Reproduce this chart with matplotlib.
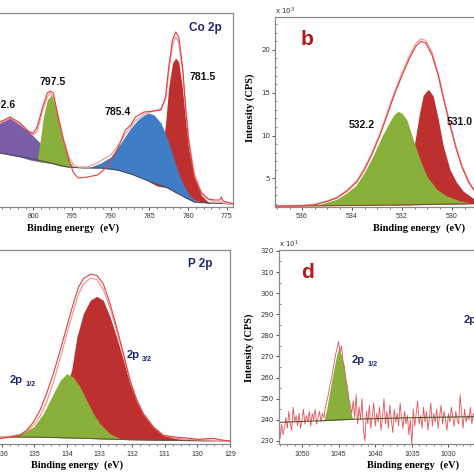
import matplotlib
matplotlib.use("Agg")
import matplotlib.pyplot as plt
from matplotlib.ticker import MultipleLocator
from matplotlib.transforms import offset_copy

# ---------------- panel a : Co 2p ----------------
a_bg_x = [805.5, 804.3, 800.0, 797.8, 795.6, 793.5, 791.3, 789.1, 787.0, 784.8, 782.6, 780.5, 779.2, 777.4, 774.0]
a_bg_y = [56, 54, 48, 44, 40, 39, 39, 37, 32, 25, 19, 10, 5, 4, 3]

a_purple_x = [805.5, 804.3, 803.0, 801.7, 800.4, 799.1, 797.8, 796.9, 796.0]
a_purple_top = [78, 84, 89, 82, 74, 64, 50, 43, 40]
a_purple_bot = [56, 54, 52, 50, 47, 45, 44, 42, 40]

a_green_x = [799.5, 799.1, 798.7, 798.2, 797.7, 797.3, 796.9, 796.5, 796.1, 795.6, 795.2, 794.8]
a_green_top = [46, 67, 90, 107, 112, 107, 94, 77, 64, 52, 44, 40]
a_green_bot = [46, 45, 45, 44, 44, 43, 42, 41, 41, 40, 40, 40]

a_blue_x = [792.6, 791.3, 790.0, 788.7, 787.4, 786.5, 785.7, 785.1, 784.4, 783.5, 782.6, 781.8, 780.9, 780.0, 779.2, 778.3]
a_blue_top = [40, 44, 50, 64, 79, 87, 92, 94, 92, 84, 67, 47, 27, 14, 7, 4]
a_blue_bot = [39, 39, 38, 36, 33, 30, 28, 26, 24, 22, 19, 15, 12, 8, 5, 4]

a_red_x = [785.0, 784.0, 783.3, 782.9, 782.5, 782.0, 781.6, 781.2, 780.7, 780.3, 779.9, 779.2, 778.3, 777.4, 776.6, 775.5]
a_red_top = [26, 40, 60, 84, 120, 144, 149, 145, 117, 84, 57, 30, 12, 5, 3.5, 3]
a_red_bot = [25, 21, 20, 20, 18, 17, 16, 15, 13, 12, 10, 7, 5, 4, 3.5, 3]

a_line_x = [805.5, 804.3, 803.0, 801.7, 800.6, 800.0, 799.5, 798.8, 798.2, 797.8, 797.4, 796.8, 796.1,
            795.4, 794.8, 794.2, 793.0, 791.7, 790.9, 790.0, 789.0, 788.1, 787.4, 786.8, 785.7, 784.4,
            783.5, 782.9, 782.5, 782.0, 781.6, 781.2, 780.7, 780.3, 779.9, 779.2, 778.3, 777.4, 776.6,
            775.9, 775.7, 775.5, 774.0]
a_data_y = [80, 85, 90, 84, 75, 74, 80, 100, 114, 116, 114, 90, 67, 47, 34, 29, 30, 32, 37, 45, 60, 77,
            82, 90, 95, 96, 97, 110, 140, 167, 175, 170, 140, 97, 64, 30, 14, 8, 7, 7, 10, 6, 3]
a_fit_y = [79, 84, 89, 83, 76, 72, 76, 96, 110, 114, 110, 92, 68, 50, 42, 40, 40, 44, 48, 52, 62, 73,
           80, 86, 93, 96, 98, 108, 135, 162, 170, 165, 135, 100, 68, 34, 15, 8, 5, 5, 5, 4, 3]

# ---------------- panel b : O 1s ----------------
b_bg_x = [537.2, 535.0, 533.0, 531.0, 529.0]
b_bg_y = [1.75, 1.8, 1.85, 1.95, 2.05]

b_green_x = [536.5, 535.3, 534.6, 534.2, 533.84, 533.48, 533.16, 532.8, 532.44, 532.3, 532.15, 532.0,
             531.81, 531.55, 531.28, 531.01, 530.61, 530.21, 529.68, 529.15]
b_green_top = [1.8, 1.97, 2.56, 3.33, 4.18, 5.8, 7.6, 9.92, 11.86, 12.5, 12.82, 12.6, 11.86, 9.53,
               7.21, 5.27, 3.72, 2.94, 2.36, 2.09]
b_green_bot = [1.77, 1.8, 1.82, 1.83, 1.84, 1.85, 1.86, 1.87, 1.88, 1.89, 1.9, 1.9, 1.91, 1.92, 1.93,
               1.95, 1.97, 1.99, 2.01, 2.04]

b_red_x = [532.4, 532.0, 531.7, 531.5, 531.3, 531.15, 530.95, 530.75, 530.55, 530.35, 530.08, 529.81,
           529.55, 529.12]
b_red_top = [1.9, 3.0, 5.5, 9.0, 12.6, 14.7, 15.4, 14.6, 11.9, 8.8, 6.0, 4.5, 3.5, 2.6]
b_red_bot = [1.88, 1.9, 1.91, 1.92, 1.93, 1.94, 1.95, 1.96, 1.97, 1.98, 1.99, 2.0, 2.02, 2.04]

b_line_x = [537.1, 536.0, 535.5, 535.0, 534.6, 534.2, 533.8, 533.5, 533.2, 532.9, 532.6, 532.3, 532.0,
            531.7, 531.45, 531.25, 531.05, 530.8, 530.55, 530.35, 530.1, 529.85, 529.6, 529.35, 529.1]
b_fit_y = [1.75, 1.8, 1.9, 2.3, 2.7, 3.5, 4.6, 6.0, 7.8, 9.9, 12.3, 14.8, 17.0, 19.0, 20.4, 21.0,
           20.8, 19.4, 17.0, 14.4, 11.4, 8.6, 6.3, 4.6, 3.5]
b_data_y = [1.8, 1.85, 1.95, 2.35, 2.8, 3.6, 4.75, 6.2, 8.0, 10.1, 12.6, 15.1, 17.3, 19.3, 20.7, 21.3,
            21.1, 19.7, 17.3, 14.7, 11.7, 8.9, 6.5, 4.8, 3.6]

# ---------------- panel c : P 2p ----------------
c_bg_x = [138.4, 136.0, 135.0, 134.0, 133.0, 132.0, 131.0, 130.0, 129.0]
c_bg_y = [8.5, 7.5, 7.2, 6.5, 5.5, 4.5, 4.0, 3.6, 3.3]

c_green_x = [136.2, 135.75, 135.44, 135.03, 134.73, 134.42, 134.21, 134.01, 133.81, 133.60, 133.40,
             133.19, 132.99, 132.68, 132.37, 131.98]
c_green_top = [7.6, 8.0, 10.6, 17.3, 30.6, 50.6, 64, 70.6, 67.3, 57.3, 44, 30.6, 20.6, 10.6, 5.6, 4.5]
c_green_bot = [7.6, 7.4, 7.3, 7.2, 7.0, 6.8, 6.6, 6.5, 6.3, 6.1, 5.9, 5.7, 5.5, 5.2, 4.9, 4.5]

c_red_x = [136.2, 135.5, 135.0, 134.5, 134.2, 133.86, 133.70, 133.50, 133.29, 133.09, 132.89, 132.68,
           132.48, 132.27, 132.07, 131.86, 131.66, 131.35, 131.05, 130.64, 130.0, 129.5]
c_red_top = [7.6, 8.5, 12, 24, 40, 74, 107, 130.6, 144, 148, 144, 127.3, 107.3, 84, 60.6, 44, 30.6,
             17.3, 9, 5.6, 4.5, 3.8]
c_red_bot = [7.6, 7.3, 7.2, 6.8, 6.6, 6.3, 6.2, 6.0, 5.8, 5.6, 5.4, 5.2, 5.0, 4.8, 4.6, 4.4, 4.3, 4.1,
             4.0, 3.8, 3.6, 3.5]

c_line_x = [138.4, 136.05, 135.75, 135.44, 135.24, 135.03, 134.83, 134.63, 134.42, 134.21, 134.01,
            133.81, 133.65, 133.50, 133.29, 133.09, 132.89, 132.68, 132.48, 132.27, 132.07, 131.86,
            131.66, 131.35, 131.05, 130.64, 130.33, 130.0, 129.49, 129.3, 129.0]
c_fit_y = [8.5, 7.6, 8, 10, 13, 19, 28, 42, 62, 86, 110, 133, 150, 160, 166, 165, 155, 136, 114, 89,
           64, 44, 30.6, 17.3, 9, 6, 5, 4.5, 4, 3.8, 3.5]
c_data_y = [8.5, 5.6, 7.3, 9, 14, 22.3, 34, 50.6, 70.6, 94, 117.3, 140.6, 157, 165.6, 170, 169, 160.6,
            140.6, 117.3, 90.6, 64, 44, 30.6, 17.3, 9, 7, 6.3, 5, 6, 4.5, 3.3]

# ---------------- panel d (x10) ----------------
d_x = [1053.2, 1053.0, 1052.8, 1052.6, 1052.4, 1052.2, 1052.0, 1051.8, 1051.6, 1051.4, 1051.2, 1051.0,
       1050.8, 1050.6, 1050.4, 1050.2, 1050.0, 1049.8, 1049.6, 1049.4, 1049.2, 1049.0, 1048.8, 1048.6,
       1048.4, 1048.2, 1048.0, 1047.8, 1047.6, 1047.4, 1047.2, 1047.0, 1046.8, 1046.6, 1046.4, 1046.2,
       1046.0, 1045.8, 1045.6, 1045.4, 1045.2, 1045.0, 1044.8, 1044.6, 1044.4, 1044.2, 1044.0, 1043.8,
       1043.6, 1043.4, 1043.2, 1043.0, 1042.8, 1042.6, 1042.4, 1042.2, 1042.0, 1041.8, 1041.6, 1041.4,
       1041.2, 1041.0, 1040.8, 1040.6, 1040.4, 1040.2, 1040.0, 1039.8, 1039.6, 1039.4, 1039.2, 1039.0,
       1038.8, 1038.6, 1038.4, 1038.2, 1038.0, 1037.8, 1037.6, 1037.4, 1037.2, 1037.0, 1036.8, 1036.6,
       1036.4, 1036.2, 1036.0, 1035.8, 1035.6, 1035.4, 1035.2, 1035.0, 1034.8, 1034.6, 1034.4, 1034.2,
       1034.0, 1033.8, 1033.6, 1033.4, 1033.2, 1033.0, 1032.8, 1032.6, 1032.4, 1032.2, 1032.0, 1031.8,
       1031.6, 1031.4, 1031.2, 1031.0, 1030.8, 1030.6, 1030.4, 1030.2, 1030.0, 1029.8, 1029.6, 1029.4,
       1029.2, 1029.0, 1028.8, 1028.6, 1028.4, 1028.2, 1028.0, 1027.8, 1027.6, 1027.4, 1027.2, 1027.0,
       1026.8, 1026.6, 1026.4]
d_y = [234, 231, 238, 233, 236, 241, 236, 244, 238, 235, 246, 239, 242, 237, 243, 236, 240, 245, 238,
       242, 239, 244, 237, 243, 240, 245, 238, 241, 244, 239, 243, 241, 246, 249, 252, 256, 259, 263,
       267, 271, 274, 277, 272, 275, 268, 265, 259, 256, 250, 247, 243, 249, 241, 252, 238, 246, 240,
       250, 235, 230, 244, 238, 247, 236, 242, 248, 237, 243, 239, 246, 235, 241, 250, 238, 244, 236,
       247, 240, 234, 245, 239, 243, 237, 248, 241, 236, 244, 238, 242, 233, 240, 228, 245, 237, 243,
       249, 238, 242, 236, 246, 239, 244, 235, 241, 248, 237, 243, 239, 245, 236, 242, 247, 238, 244,
       240, 235, 243, 239, 246, 241, 237, 244, 240, 238, 252, 243, 236, 245, 239, 242, 240, 246, 238,
       243, 241]
d_bg_x = [1053.2, 1047.2, 1042.9, 1035.0, 1026.4]
d_bg_y = [238.8, 239.6, 240.3, 241.0, 241.5]
d_green_x = [1047.2, 1046.95, 1046.6, 1046.35, 1046.0, 1045.67, 1045.4, 1045.2, 1045.0, 1044.8,
             1044.54, 1044.3, 1044.08, 1043.85, 1043.62, 1043.4, 1043.17, 1042.9]
d_green_top = [239.6, 240.3, 245.5, 250.8, 257.5, 263.5, 268.5, 271.5, 273.7, 272.5, 269.8, 265.5,
               260.3, 254.5, 249.3, 245.0, 241.3, 240.4]
d_green_bot = [239.6, 239.6, 239.7, 239.7, 239.8, 239.8, 239.9, 239.9, 239.9, 240.0, 240.0, 240.0,
               240.1, 240.1, 240.1, 240.2, 240.2, 240.3]

RED = "#be3030"
GREEN = "#89b03a"
BLUE = "#3f7ec6"
PURPLE = "#7b5ea8"
LINE = "#e0403c"
LINE2 = "#f29a9a"
NAVY = "#1c2672"
DARKRED = "#b3191b"
SPINE = "#8a8a8a"
SERIF = ["Liberation Serif", "DejaVu Serif"]
SANS = ["Liberation Sans", "DejaVu Sans"]

fig = plt.figure(figsize=(4.74, 4.74), dpi=100)


def px_axes(l, r, t, b):
    return fig.add_axes([l / 474, 1 - b / 474, (r - l) / 474, (b - t) / 474])


def style(ax, xmaj, xmin, ylab=False):
    for s in ax.spines.values():
        s.set_color(SPINE)
        s.set_linewidth(0.9)
    ax.xaxis.set_major_locator(MultipleLocator(xmaj))
    ax.xaxis.set_minor_locator(MultipleLocator(xmin))
    ax.tick_params(axis="x", which="major", direction="out", length=2.5, width=0.6,
                   labelsize=5, colors="#333333", pad=2)
    ax.tick_params(axis="x", which="minor", direction="out", length=1.5, width=0.5, colors="#555555")
    for lab in ax.get_xticklabels():
        lab.set_family(SANS)
    ax.set_xlabel("Binding energy  (eV)", family=SERIF, fontweight="bold", fontsize=7.5)
    ax.xaxis.set_label_coords(0.5, -0.085)
    if ylab:
        ax.tick_params(axis="y", which="major", direction="out", length=2, width=0.6,
                       labelsize=5, colors="#333333", pad=1.5)
        ax.tick_params(axis="y", which="minor", direction="in", length=1.5, width=0.5, colors="#555555")
        ax.set_ylabel("Intensity (CPS)", family=SERIF, fontweight="bold", fontsize=7.5)
    else:
        ax.set_yticks([])


def sub_label(ax, x, y, main, sub, size=8):
    ax.text(x, y, main, color=NAVY, fontsize=size, fontweight="bold", family=SANS, va="baseline")
    tr = offset_copy(ax.transData, fig=fig, x=size * 1.35, y=-2.2, units="points")
    ax.text(x, y, sub, color=NAVY, fontsize=size * 0.65, fontweight="bold", family=SANS,
            va="baseline", transform=tr)


# ---- a ----
ax = px_axes(-87, 233, 13, 207)
ax.fill_between(a_red_x, a_red_bot, a_red_top, color=RED, lw=0)
ax.fill_between(a_purple_x, a_purple_bot, a_purple_top, color=PURPLE, lw=0)
ax.fill_between(a_green_x, a_green_bot, a_green_top, color=GREEN, lw=0)
ax.fill_between(a_blue_x, a_blue_bot, a_blue_top, color=BLUE, lw=0)
ax.plot(a_bg_x, a_bg_y, color="#4a4a5a", lw=0.8)
ax.plot(a_line_x, a_fit_y, color=LINE2, lw=0.9)
ax.plot(a_line_x, a_data_y, color=LINE, lw=0.8)
ax.set_xlim(815.55, 774.19)
ax.set_ylim(0, 194)
style(ax, 5, 1)
ax.text(777.8, 179, "Co 2p", color=NAVY, fontsize=8.5, fontweight="bold", family=SANS,
        ha="center", va="center")
for lx, ly, lt, ha in [(802.24, 102, "802.6", "right"), (797.45, 125, "797.5", "center"),
                       (789.05, 95, "785.4", "center"), (778.06, 130, "781.5", "center")]:
    ax.text(lx, ly, lt, fontsize=7.5, fontweight="bold", family=SANS, ha=ha, va="center", color="#111111")

# ---- b ----
ax = px_axes(275, 563, 16.5, 207)
ax.fill_between(b_red_x, b_red_bot, b_red_top, color=RED, lw=0)
ax.fill_between(b_green_x, b_green_bot, b_green_top, color=GREEN, lw=0)
ax.plot(b_bg_x, b_bg_y, color="#8a4a2a", lw=0.8)
ax.plot(b_line_x, b_data_y, color=LINE2, lw=0.9)
ax.plot(b_line_x, b_fit_y, color=LINE, lw=0.8)
ax.set_xlim(537.08, 525.56)
ax.set_ylim(1.65, 23.9)
ax.yaxis.set_major_locator(MultipleLocator(5))
ax.yaxis.set_minor_locator(MultipleLocator(1))
style(ax, 2, 0.5, ylab=True)
ax.yaxis.set_label_coords(-0.068, 0.52)
ax.text(0.0, 1.012, r"x 10$^3$", transform=ax.transAxes, fontsize=5, color="#333333")
ax.text(535.8, 21.16, "b", color=DARKRED, fontsize=15, fontweight="bold", family=SANS,
        ha="center", va="center")
ax.text(533.6, 11.26, "532.2", fontsize=7.5, fontweight="bold", family=SANS, ha="center",
        va="center", color="#111111")
ax.text(530.2, 11.6, "531.0", fontsize=7.5, fontweight="bold", family=SANS, ha="left",
        va="center", color="#111111")

# ---- c ----
ax = px_axes(-76, 230, 249.7, 444.3)
ax.fill_between(c_red_x, c_red_bot, c_red_top, color=RED, lw=0)
ax.fill_between(c_green_x, c_green_bot, c_green_top, color=GREEN, lw=0)
ax.plot(c_bg_x, c_bg_y, color="#5a5a3a", lw=0.7)
ax.plot(c_line_x, c_fit_y, color=LINE2, lw=0.9)
ax.plot(c_line_x, c_data_y, color=LINE, lw=0.8)
ax.set_xlim(138.39, 129)
ax.set_ylim(0, 194.6)
style(ax, 1, 0.25)
ax.text(129.92, 180.6, "P 2p", color=NAVY, fontsize=8.5, fontweight="bold", family=SANS,
        ha="center", va="center")
sub_label(ax, 132.17, 86, "2p", "3/2")
sub_label(ax, 135.75, 61, "2p", "1/2")

# ---- d ----
ax = px_axes(278.7, 548, 250.3, 444.3)
ax.fill_between(d_green_x, d_green_bot, d_green_top, color=GREEN, lw=0)
ax.plot(d_x, d_y, color="#e8505a", lw=0.6)
ax.plot(d_bg_x, d_bg_y, color="#4a5a2a", lw=0.8)
ax.set_xlim(1053.18, 1016.4)
ax.set_ylim(228.4, 320.3)
ax.yaxis.set_major_locator(MultipleLocator(10))
ax.yaxis.set_minor_locator(MultipleLocator(5))
style(ax, 5, 1, ylab=True)
ax.xaxis.set_label_coords(0.5, -0.085)
ax.yaxis.set_label_coords(-0.09, 0.5)
ax.text(0.0, 1.012, r"x 10$^1$", transform=ax.transAxes, fontsize=5, color="#333333")
ax.text(1049.3, 310, "d", color=DARKRED, fontsize=15, fontweight="bold", family=SANS,
        ha="center", va="center")
sub_label(ax, 1043.17, 267, "2p", "1/2")
sub_label(ax, 1027.9, 286, "2p", "3/2")

fig.savefig("out.png", dpi=100)
